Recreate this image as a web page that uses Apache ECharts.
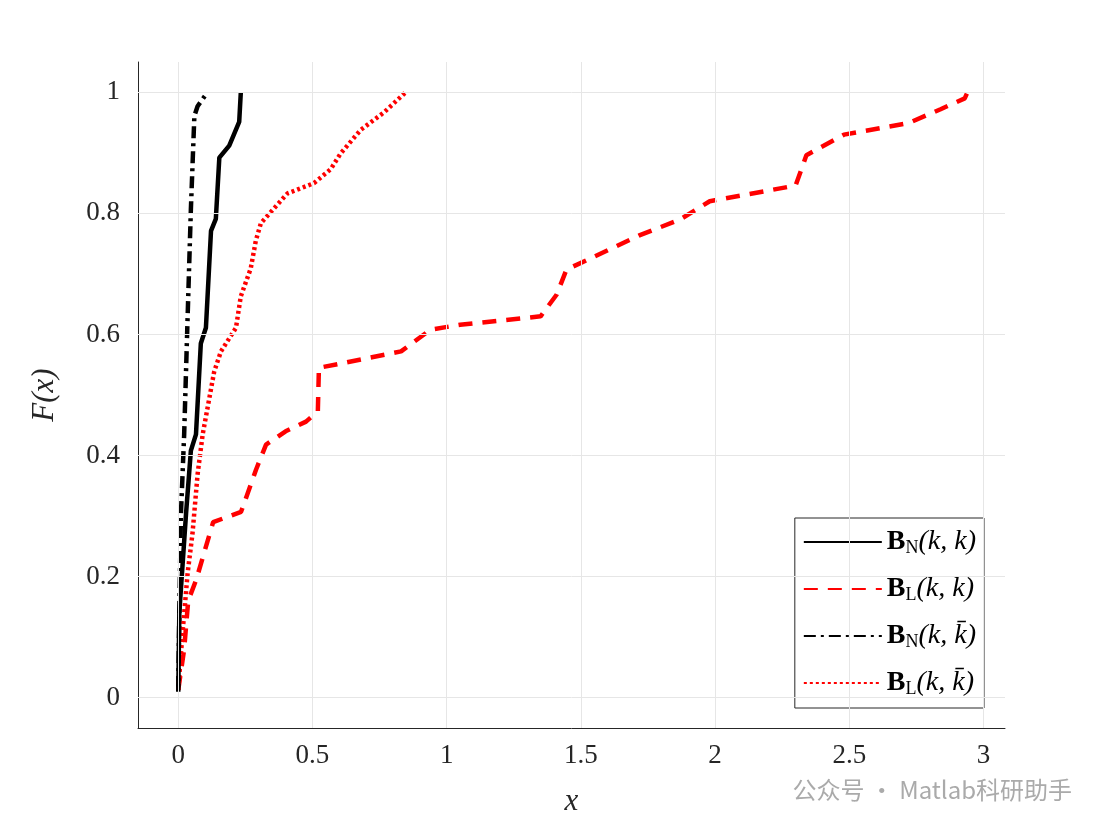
<!DOCTYPE html><html><head><meta charset="utf-8"><script src="https://cdn.jsdelivr.net/npm/echarts@6/dist/echarts.min.js"></script>
<style>html,body{margin:0;background:#fff}#c{width:1107px;height:835px}</style></head><body><div id="c"></div><script>
const xTicks=[0,0.5,1,1.5,2,2.5,3];
const yTicks=[0,0.2,0.4,0.6,0.8,1];
const bnKK=[[0,0.01],[0.004,0.141],[0.029,0.304],[0.047,0.408],[0.066,0.435],[0.084,0.585],[0.103,0.611],[0.122,0.771],[0.14,0.791],[0.153,0.892],[0.19,0.912],[0.227,0.951],[0.233,1]];
const blKK=[[0,0.013],[0.022,0.08],[0.037,0.16],[0.067,0.195],[0.11,0.26],[0.13,0.29],[0.234,0.307],[0.29,0.377],[0.327,0.418],[0.4,0.44],[0.476,0.456],[0.52,0.473],[0.524,0.545],[0.606,0.552],[0.83,0.572],[0.94,0.608],[1.05,0.616],[1.35,0.63],[1.41,0.666],[1.446,0.707],[1.72,0.764],[1.87,0.79],[1.98,0.82],[2.3,0.846],[2.34,0.896],[2.48,0.93],[2.72,0.949],[2.84,0.972],[2.93,0.99],[2.94,1]];
const bnKb=[[0,0.016],[0.004,0.141],[0.01,0.304],[0.022,0.435],[0.035,0.631],[0.047,0.807],[0.06,0.961],[0.072,0.977],[0.109,1]];
const blKb=[[0,0.013],[0.016,0.108],[0.035,0.206],[0.053,0.271],[0.072,0.369],[0.091,0.435],[0.134,0.539],[0.159,0.572],[0.215,0.611],[0.233,0.663],[0.27,0.709],[0.289,0.755],[0.308,0.784],[0.407,0.833],[0.506,0.85],[0.568,0.873],[0.605,0.899],[0.68,0.938],[0.767,0.967],[0.847,1]];
const legendRich={
 a:{text:['N','k, k']},b:{text:['L','k, k']},c:{text:['N','k, k̄']},d:{text:['L','k, k̄']}};
const F='"Liberation Serif","DejaVu Serif",serif';
const ch=echarts.init(document.getElementById('c'));
function ser(name,data,color,type,width){return{name,type:'line',data,symbol:'none',showSymbol:false,legendIcon:'rect',lineStyle:{color,width,type},itemStyle:{color},z:type==='solid'?3:2};}
ch.setOption({
 animation:false,
 grid:{left:138,right:102,top:62,bottom:107},
 xAxis:{type:'value',min:-0.15,max:3.08,
  axisLine:{onZero:false,lineStyle:{color:'#262626'}},
  axisTick:{inside:true,length:8,customValues:xTicks,lineStyle:{color:'#262626'}},
  axisLabel:{customValues:xTicks,fontFamily:F,fontSize:27,color:'#262626',margin:14},
  splitLine:{show:false},
  name:'x',nameLocation:'middle',nameGap:58,nameTextStyle:{fontFamily:F,fontSize:31,fontStyle:'italic',color:'#262626'}},
 yAxis:{type:'value',min:-0.05,max:1.05,
  axisLine:{show:true,onZero:false,lineStyle:{color:'#262626'}},
  axisTick:{show:true,inside:true,length:8,customValues:yTicks,lineStyle:{color:'#262626'}},
  axisLabel:{customValues:yTicks,fontFamily:F,fontSize:27,color:'#262626',margin:18},
  splitLine:{show:false},
  name:'F(x)',nameLocation:'middle',nameGap:78,nameTextStyle:{fontFamily:F,fontSize:31,fontStyle:'italic',color:'#262626'}},
 legend:{right:123,top:518,orient:'vertical',itemWidth:78,itemHeight:14,itemGap:18,
  backgroundColor:'#fff',borderColor:'#262626',borderWidth:1,borderRadius:0,padding:[10,8,10,8],
  itemStyle:{opacity:0,borderWidth:0},
  data:['a','b','c','d'],
  formatter:n=>`{b|B}{s|${legendRich[n].text[0]}}{t|(${legendRich[n].text[1]})}`,
  textStyle:{rich:{b:{fontFamily:F,fontWeight:'bold',fontSize:28,color:'#000'},s:{fontFamily:F,fontSize:18,color:'#000',verticalAlign:'bottom',padding:[12,0,0,0]},t:{fontFamily:F,fontStyle:'italic',fontSize:28,color:'#000'}}}},
 series:[
  ser('a',bnKK,'#000','solid',4.5),
  ser('b',blKK,'#ff0000',[14,10],4.5),
  ser('c',bnKb,'#000',[12,5,3,5],4.5),
  ser('d',blKb,'#ff0000',[3,3],4.5),
  {type:'line',data:[],silent:true,markLine:{silent:true,symbol:'none',label:{show:false},lineStyle:{color:'#e6e6e6',width:1,type:'solid'},
   data:xTicks.map(v=>({xAxis:v})).concat(yTicks.map(v=>({yAxis:v})))}}
 ],
 graphic:[{type:'text',right:35,top:778,style:{text:'公众号 · Matlab科研助手',fontFamily:'"Noto Sans CJK SC"',fontSize:24,fill:'#aaa'}}]
});
</script></body></html>
